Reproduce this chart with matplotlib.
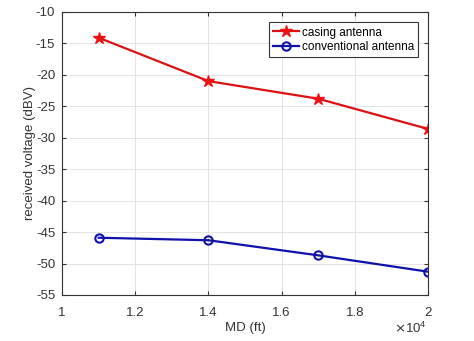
import matplotlib.pyplot as plt
from matplotlib.ticker import FuncFormatter

plt.rcParams['font.family'] = ['Liberation Sans', 'DejaVu Sans']
plt.rcParams['axes.unicode_minus'] = False

md_ft = [11000, 14000, 17000, 20000]
casing = [-14.1, -21.0, -23.8, -28.6]
conventional = [-45.9, -46.3, -48.7, -51.3]
x_ticks = [10000, 12000, 14000, 16000, 18000, 20000]
y_ticks = [-55, -50, -45, -40, -35, -30, -25, -20, -15, -10]

fig = plt.figure(figsize=(4.74, 3.41), dpi=100)
ax = fig.add_axes([0.131, 0.135, 0.772, 0.83])

ax.plot(md_ft, casing, color='#dd1111', lw=1.6, marker='*', ms=9,
        mfc='#ee1111', mec='#ee1111', label='casing antenna')
ax.plot(md_ft, conventional, color='#1010aa', lw=1.6, marker='o', ms=6,
        mfc='none', mec='#1010aa', mew=1.5, label='conventional antenna')

ax.set_xlim(10000, 20000)
ax.set_ylim(-55, -10)
ax.set_xticks(x_ticks)
ax.set_yticks(y_ticks)
ax.xaxis.set_major_formatter(FuncFormatter(lambda v, p: '%g' % (v / 1e4)))
ax.tick_params(direction='in', labelsize=9.5, colors='#333333', length=3,
               top=True, right=True)
ax.tick_params(axis='x', pad=9)
ax.tick_params(axis='y', pad=5)
ax.grid(True, color='#e3e3e3', lw=0.7)
for s in ax.spines.values():
    s.set_color('#333333')
    s.set_linewidth(0.8)

ax.set_xlabel('MD (ft)', fontsize=9.5, color='#333333', labelpad=2)
ax.set_ylabel('received voltage (dBV)', fontsize=9.5, color='#333333', labelpad=0)
ax.text(0.952, -0.117, r'$\times\mathregular{10^{4}}$', transform=ax.transAxes,
        ha='center', va='center', fontsize=9.5, color='#333333')

leg = ax.legend(loc='upper right', fontsize=8.5, fancybox=False, framealpha=1,
                edgecolor='#333333', borderpad=0.35, handlelength=2.2,
                handletextpad=0.2, labelspacing=0.2, borderaxespad=0,
                bbox_to_anchor=(0.973, 0.963))
leg.get_frame().set_linewidth(0.8)

fig.savefig('out.png', dpi=100)
